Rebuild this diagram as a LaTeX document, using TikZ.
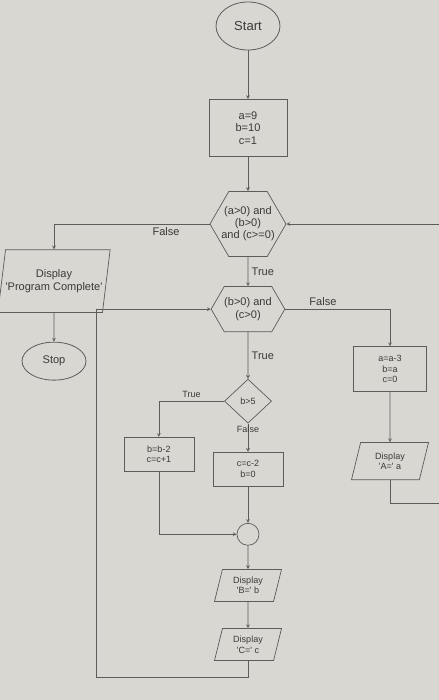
\documentclass[tikz,border=0pt]{standalone}
\usepackage{fontspec}
\setmainfont{Liberation Sans}
\usepackage{tikz}
\usepackage{xcolor}
\usetikzlibrary{shapes.geometric, shapes.symbols, arrows, positioning}
\definecolor{screen}{RGB}{216,215,210}
\definecolor{linegray}{RGB}{92,92,92}
\definecolor{textgray}{RGB}{58,58,58}
\tikzstyle{terminal} = [ellipse, draw=linegray, text=textgray, line width=0.8pt, inner sep=0pt, font=\fontsize{13}{14}\selectfont]
\tikzstyle{process} = [rectangle, draw=linegray, text=textgray, align=center, line width=0.7pt, inner sep=0pt, font=\fontsize{11}{12.5}\selectfont]
\tikzstyle{decision} = [signal, signal to=east and west, signal pointer angle=120, draw=linegray, text=textgray, align=center, line width=0.7pt, inner sep=0pt, font=\fontsize{11}{12}\selectfont]
\tikzstyle{test} = [diamond, draw=linegray, text=textgray, line width=0.7pt, inner sep=0pt, font=\fontsize{9}{10}\selectfont]
\tikzstyle{io} = [trapezium, trapezium left angle=75, trapezium right angle=105, trapezium stretches=true, draw=linegray, text=textgray, align=center, line width=0.7pt, inner sep=0pt, font=\fontsize{11}{12}\selectfont]
\tikzstyle{junction} = [circle, draw=linegray, line width=0.7pt, minimum size=0.77cm, inner sep=0pt]
\tikzstyle{smallfont} = [font=\fontsize{9}{10.5}\selectfont]
\tikzstyle{branch} = [text=textgray, font=\fontsize{11}{12}\selectfont]
\tikzstyle{arrow} = [draw=linegray, line width=0.7pt, ->, >=stealth]

\begin{document}
\begin{tikzpicture}[node distance=2cm]

        % Page
        \path[use as bounding box, fill=screen] (-8.68,0.91) rectangle (6.685,-23.59);

        % Nodes
        \node (start) [terminal, minimum width=2.24cm, minimum height=1.68cm] {Start};
        \node (setup) [process, below of=start, yshift=-1.57cm, minimum width=2.73cm, minimum height=2cm] {a=9\\ b=10\\ c=1};
        \node (check) [decision, below of=setup, yshift=-1.36cm, minimum width=2.66cm, minimum height=2.28cm] {};
        \node (checktext) [branch, align=center, at=(check)] {(a>0) and\\ (b>0)\\ and (c>=0)};
        \node (message) [io, left of=check, xshift=-4.79cm, yshift=-2cm, trapezium left angle=71, trapezium right angle=109, minimum width=3.85cm, minimum height=2.2cm] {Display\\ \textquotesingle Program Complete\textquotesingle};
        \node (stop) [terminal, below of=message, yshift=-0.8cm, minimum width=2.24cm, minimum height=1.33cm, font=\fontsize{11}{12}\selectfont] {Stop};
        \node (loop) [decision, below of=check, yshift=-0.98cm, minimum width=2.56cm, minimum height=1.58cm] {(b>0) and\\ (c>0)};
        \node (reduce) [process, smallfont, right of=loop, xshift=2.97cm, yshift=-2.1cm, minimum width=2.56cm, minimum height=1.58cm] {a=a-3\\ b=a\\ c=0};
        \node (showa) [io, smallfont, below of=reduce, yshift=-1.22cm, minimum width=2.7cm, minimum height=1.3cm] {Display\\ \textquotesingle A=\textquotesingle\ a};
        \node (bigger) [test, below of=loop, yshift=-1.22cm, minimum width=1.65cm, minimum height=1.54cm] {b>5};
        \node (reset) [process, smallfont, below of=bigger, yshift=-0.38cm, minimum width=2.45cm, minimum height=1.19cm] {c=c-2\\ b=0};
        \node (decrease) [process, smallfont, left of=reset, xshift=-1.12cm, yshift=0.52cm, minimum width=2.45cm, minimum height=1.19cm] {b=b-2\\ c=c+1};
        \node (merge) [junction, below of=reset, yshift=-0.28cm] {};
        \node (showb) [io, smallfont, below of=merge, yshift=0.21cm, minimum width=2.35cm, minimum height=1.12cm] {Display\\ \textquotesingle B=\textquotesingle\ b};
        \node (showc) [io, smallfont, below of=showb, yshift=-0.07cm, minimum width=2.35cm, minimum height=1.12cm] {Display\\ \textquotesingle C=\textquotesingle\ c};
        \coordinate (edge) at (6.9,-16.7);
        \coordinate (back) at (-5.3,-22.8);

        % Arrows
        \draw [arrow] (start) -- (setup);
        \draw [arrow] (setup) -- (check);
        \draw [arrow] (check) -- node[branch, right] {True} (loop);
        \draw [arrow] (check.west) -| node[branch, below, pos=0.14] {False} (message.north);
        \draw [arrow] (message) -- (stop);
        \draw [arrow] (loop) -- node[branch, right] {True} (bigger);
        \draw [arrow] (loop.east) -| node[branch, above, pos=0.18] {False} (reduce.north);
        \draw [arrow] (reduce) -- (showa);
        \draw [arrow] (showa.south) |- (edge) |- (check.east);
        \draw [arrow] (bigger.west) -| node[branch, smallfont, above, pos=0.25] {True} (decrease.north);
        \draw [arrow] (bigger) -- node[branch, smallfont, pos=0.2] {False} (reset);
        \draw [arrow] (decrease.south) |- (merge.west);
        \draw [arrow] (reset) -- (merge);
        \draw [arrow] (merge) -- (showb);
        \draw [arrow] (showb) -- (showc);
        \draw [arrow] (showc.south) |- (back) |- (loop.west);

\end{tikzpicture}
\end{document}
